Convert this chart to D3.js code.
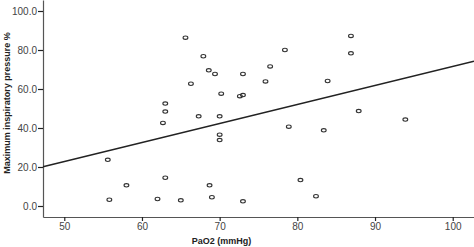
<!DOCTYPE html>
<html><head><meta charset="utf-8">
<script src="https://cdn.jsdelivr.net/npm/d3@7"></script>
<style>body{margin:0;background:#fff}svg{display:block}</style>
</head><body>
<script>
const pao2 = [55.6,55.8,58.0,62.0,62.7,63.0,63.0,63.0,65.0,65.6,66.3,67.3,67.9,68.6,68.7,69.0,69.4,70.0,70.0,70.0,70.2,72.6,73.0,73.0,73.0,75.9,76.5,78.4,78.9,80.4,82.4,83.4,83.9,86.9,86.9,87.9,93.9];
const mip  = [23.7,3.2,10.6,3.6,42.6,52.5,48.4,14.5,2.9,86.3,62.7,46.0,76.8,69.6,10.6,4.5,67.7,46.0,36.6,33.8,57.6,56.3,56.9,67.7,2.4,63.9,71.6,80.0,40.7,13.3,5.0,38.8,64.1,87.2,78.3,48.7,44.3];
const fitIntercept = -26.0;
const fitSlope = 0.976;
const xTicks = [50,60,70,80,90,100];
const yTicks = [0,20,40,60,80,100];
const xTitle = "PaO2 (mmHg)";
const yTitle = "Maximum inspiratory pressure %";

const W=474,H=247;
const svg=d3.select("body").append("svg").attr("width",W).attr("height",H);
const x=d3.scaleLinear().domain([47.26,102.74]).range([43,474]);
const y=d3.scaleLinear().domain([-5.64,105.64]).range([217,0]);

const font="'Liberation Sans', Arial, sans-serif";
const xa=svg.append("g").attr("transform","translate(0,217)")
  .call(d3.axisBottom(x).tickValues(xTicks).tickSize(4).tickSizeOuter(0).tickFormat(d3.format("d")));
const ya=svg.append("g").attr("transform","translate(43,0)")
  .call(d3.axisLeft(y).tickValues(yTicks).tickSize(5).tickSizeOuter(0).tickFormat(d3.format(".1f")));
[xa,ya].forEach(a=>{
  a.select(".domain").attr("stroke","#555").attr("stroke-width",1.2);
  a.selectAll(".tick line").attr("stroke","#222").attr("stroke-width",1.2);
  a.selectAll("text").attr("font-family",font).attr("font-size",10).attr("fill","#444");
});
ya.selectAll("text").attr("x",-6);
xa.selectAll("text").attr("y",6);

// regression line
const xd=x.domain();
svg.append("line")
  .attr("x1",x(xd[0])).attr("y1",y(fitIntercept+fitSlope*xd[0]))
  .attr("x2",x(xd[1])).attr("y2",y(fitIntercept+fitSlope*xd[1]))
  .attr("stroke","#222").attr("stroke-width",1.4);

svg.append("g").selectAll("ellipse").data(pao2).join("ellipse")
  .attr("cx",(d)=>x(d)).attr("cy",(d,i)=>y(mip[i]))
  .attr("rx",2.4).attr("ry",1.7)
  .attr("fill","none").attr("stroke","#333").attr("stroke-width",1.1);

svg.append("text").attr("x",221.5).attr("y",244).attr("text-anchor","middle")
  .attr("font-family",font).attr("font-weight","bold").attr("font-size",9).attr("fill","#222").text(xTitle);
svg.append("text").attr("transform","translate(10,103) rotate(-90)").attr("text-anchor","middle")
  .attr("font-family",font).attr("font-weight","bold").attr("font-size",9).attr("fill","#222").text(yTitle);
</script>
</body></html>
